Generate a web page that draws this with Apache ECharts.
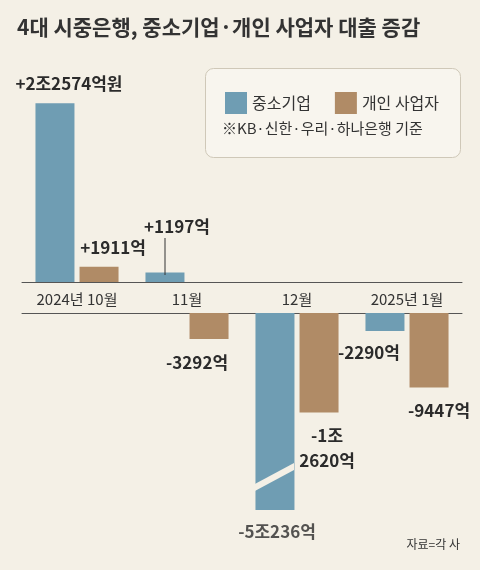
<!DOCTYPE html>
<html>
<head>
<meta charset="utf-8">
<script src="https://cdn.jsdelivr.net/npm/echarts@6/dist/echarts.min.js"></script>
<style>
  html, body { margin: 0; padding: 0; background: #f4f0e6; }
  #chart { width: 480px; height: 570px; }
</style>
</head>
<body>
<div id="chart"></div>
<script>
// 단위: 억원
const months = ['2024년 10월', '11월', '12월', '2025년 1월'];
const smeLoans = [22574, 1197, -50236, -2290];
const soloLoans = [1911, -3292, -12620, -9447];

const BLUE = '#6f9db3';
const BROWN = '#b08b66';
const FONT = '"Noto Sans CJK KR", sans-serif';

function fmt(v) {
  let sign = v > 0 ? '+' : '-';
  let a = Math.abs(v);
  let jo = Math.floor(a / 10000);
  let rest = a % 10000;
  return sign + (jo ? jo + '조' : '') + rest + '억';
}

// 라벨 위치 (스타일)
const smeLabelOpt = [
  { position: 'top', offset: [14, -2], formatter: (p) => fmt(p.value) + '원' },
  { position: 'top', offset: [12, -28] },
  null,
  { position: 'bottom', offset: [-16, 4] }
];
const soloLabelOpt = [
  { position: 'top', offset: [14, -2] },
  { position: 'bottom', offset: [-12, 6] },
  { position: 'bottom', offset: [8, 6], formatter: (p) => fmt(p.value).replace('조', '조\n') },
  { position: 'bottom', offset: [10, 6] }
];

const labelBase = {
  show: true, fontFamily: FONT, fontWeight: 'bold', fontSize: 17,
  color: '#2b2b2b', lineHeight: 25,
  formatter: (p) => fmt(p.value)
};

function build(values, opts, positive) {
  return values.map((v, i) => {
    let keep = positive ? v > 0 : v < 0;
    if (!keep) return null;
    if (!opts[i]) return { value: v, label: { show: false } };
    return { value: v, label: Object.assign({}, labelBase, opts[i]) };
  });
}

const BOTTOM_MIN = -25000;
const chart = echarts.init(document.getElementById('chart'));

const xBase = {
  type: 'category', data: months,
  axisTick: { show: false },
  axisLine: { lineStyle: { color: '#555', width: 1 } }
};
const yBase = { type: 'value', show: false, splitLine: { show: false } };
const barBase = { type: 'bar', barWidth: 39, barGap: '13%' };

chart.setOption({
  backgroundColor: '#f4f0e6',
  animation: false,
  title: {
    text: '4대 시중은행, 중소기업·개인 사업자 대출 증감',
    left: 12, top: 12,
    textStyle: { fontFamily: FONT, fontWeight: 'bold', fontSize: 21, color: '#333' }
  },
  legend: {
    data: ['중소기업', '개인 사업자'],
    left: 220, top: 87, itemWidth: 22, itemHeight: 22, itemGap: 24,
    icon: 'rect',
    textStyle: { fontFamily: FONT, fontSize: 16, color: '#333' }
  },
  grid: [
    { left: 22, right: 18, top: 84, height: 198 },
    { left: 22, right: 18, top: 313, height: 197 }
  ],
  xAxis: [
    Object.assign({}, xBase, { gridIndex: 0, position: 'bottom',
      axisLabel: { margin: 10, fontFamily: FONT, fontSize: 15, color: '#333' } }),
    Object.assign({}, xBase, { gridIndex: 1, position: 'top', axisLabel: { show: false } })
  ],
  yAxis: [
    Object.assign({}, yBase, { gridIndex: 0, min: 0, max: 25000 }),
    Object.assign({}, yBase, { gridIndex: 1, min: BOTTOM_MIN, max: 0 })
  ],
  graphic: [
    { type: 'rect', left: 205, top: 68, z: 0,
      shape: { width: 255, height: 89, r: 8 },
      style: { fill: '#f8f5ee', stroke: '#cfc8b8', lineWidth: 1 } },
    { type: 'text', left: 222, top: 121, z: 5,
      style: { text: '※KB·신한·우리·하나은행 기준', font: '15px ' + FONT, fill: '#333' } },
    { type: 'line', z: 5,
      shape: { x1: 165, y1: 238, x2: 165, y2: 275 },
      style: { stroke: '#333', lineWidth: 1 } },
    { type: 'polygon', z: 10,
      shape: { points: [[253, 485], [294, 463], [294, 470], [253, 492]] },
      style: { fill: '#f4f0e6' } },
    { type: 'text', right: 20, top: 538,
      style: { text: '자료=각 사', font: '12px ' + FONT, fill: '#333' } }
  ],
  series: [
    Object.assign({}, barBase, { name: '중소기업', xAxisIndex: 0, yAxisIndex: 0,
      itemStyle: { color: BLUE }, data: build(smeLoans, smeLabelOpt, true) }),
    Object.assign({}, barBase, { name: '개인 사업자', xAxisIndex: 0, yAxisIndex: 0,
      itemStyle: { color: BROWN }, data: build(soloLoans, soloLabelOpt, true) }),
    Object.assign({}, barBase, { name: '중소기업', xAxisIndex: 1, yAxisIndex: 1,
      itemStyle: { color: BLUE }, data: build(smeLoans, smeLabelOpt, false) }),
    Object.assign({}, barBase, { name: '개인 사업자', xAxisIndex: 1, yAxisIndex: 1,
      itemStyle: { color: BROWN }, data: build(soloLoans, soloLabelOpt, false) }),
    // 축 범위를 넘는 막대의 값 라벨
    {
      type: 'scatter', xAxisIndex: 1, yAxisIndex: 1, symbolSize: 0,
      silent: true, legendHoverLink: false,
      data: smeLoans.map((v, i) => v < BOTTOM_MIN ? { value: [months[i], BOTTOM_MIN], raw: v } : null)
        .filter(Boolean),
      label: Object.assign({}, labelBase, {
        position: 'bottom', offset: [-20, 4],
        formatter: (p) => fmt(p.data.raw)
      })
    }
  ]
});
</script>
</body>
</html>
